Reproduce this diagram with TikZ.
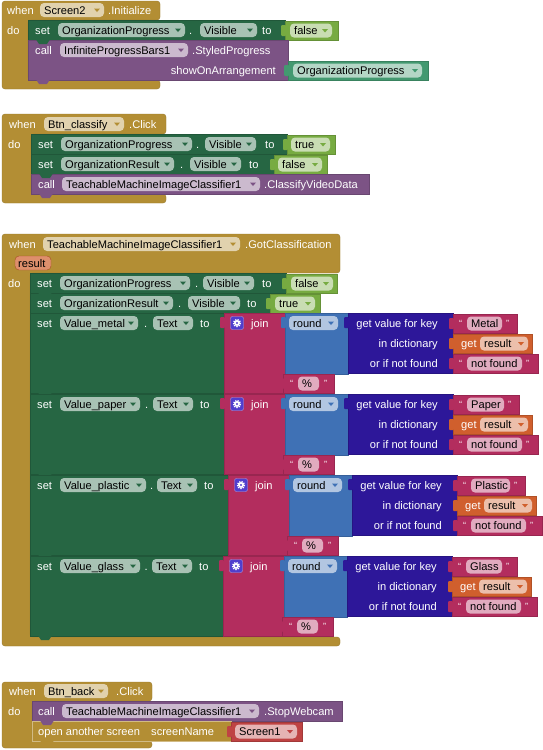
\documentclass[tikz,border=0pt]{standalone}
\usepackage{fontspec}
\setmainfont{Liberation Sans}
\definecolor{cgold}{RGB}{179,142,52}
\definecolor{cset}{RGB}{38,102,67}
\definecolor{ccomp}{RGB}{67,153,112}
\definecolor{cproc}{RGB}{124,83,133}
\definecolor{clogic}{RGB}{119,171,65}
\definecolor{ctext}{RGB}{179,45,94}
\definecolor{cmath}{RGB}{63,113,181}
\definecolor{cdict}{RGB}{45,23,153}
\definecolor{cvar}{RGB}{208,95,45}
\definecolor{cscr}{RGB}{191,67,67}
\definecolor{cgear}{RGB}{80,62,205}
\newcount\bkno
\tikzset{
  txt/.style={inner sep=0pt,text height=8pt,text depth=0pt,font=\fontsize{11.1}{13}\selectfont,text=white},
  ptxt/.style={txt,text=black},
  qtxt/.style={inner sep=0pt,text height=6pt,text depth=0pt,font=\fontsize{9}{10}\selectfont,text=white},
  blk/.style={fill=#1,draw=#1!85!black,line width=0.4pt},
  pillbox/.style={fill=white!60!#1,rounded corners=4pt},
}
\newcommand\bkT[4][west]{\global\advance\bkno by 1\relax\node[txt,anchor=#1] (n\the\bkno) at (#2,#3) {#4};}
\newcommand\bkQ[3]{\global\advance\bkno by 1\relax\node[qtxt,anchor=west] (n\the\bkno) at (#1,#2) {#3};}
\newcommand\bkBox[5]{\draw[blk=#1] (#2,#3) rectangle (#4,#5);}
\newcommand\bkPillN[5]{\fill[pillbox=#1] (#2,#4-7) rectangle (#3,#4+7);\global\advance\bkno by 1\relax\node[ptxt,anchor=west] (n\the\bkno) at (#2+4,#4) {#5};}
\newcommand\bkPill[5]{\bkPillN{#1}{#2}{#3}{#4}{#5}\fill[#1] (#3-10,#4-1.5) -- (#3-4,#4-1.5) -- (#3-7,#4+2) -- cycle;}
\newcommand\bkTab[3]{\fill[#1,rounded corners=1pt] (#2-4,#3+4) rectangle (#2+1,#3+15);}
\newcommand\bkBump[3]{\fill[#1] (#2+8,#3-0.6) -- (#2+11,#3+4) -- (#2+19,#3+4) -- (#2+22,#3-0.6) -- cycle;}
\newcommand\bkGear[2]{\draw[fill=cgear,draw=white!50!cgear,rounded corners=2pt] (#1-6.5,#2-6.5) rectangle (#1+6.5,#2+6.5);
  \draw[white,line width=1.6pt,dash pattern=on 1.2pt off 1.1pt] (#1,#2) circle[radius=3.4];
  \fill[white] (#1,#2) circle[radius=2.9]; \fill[cgear] (#1,#2) circle[radius=1.2];}
\newcommand\bkEvt[6]{\draw[blk=cgold,rounded corners=3pt] (2,#2) -- (#1,#2) -- (#1,#3) -- (#4,#3) -- (#4,#5) -- (#1,#5) -- (#1,#6) -- (2,#6) -- cycle;}
% y0, name, name-pill end, green end, key, key-pill end
\newcommand\bkRow[6]{%
\begin{scope}[shift={(0,#1)}]
  \bkBox{cset}{30}{0}{#4}{80}
  \bkT{37}{10}{set}
  \bkPill{cset}{60}{#3}{10}{#2}
  \bkT{{(#3+#4-71)/2-1.5}}{10}{.}
  \bkPill{cset}{#4-71}{#4-31}{10}{Text}
  \bkT{#4-24}{10}{to}
  % join
  \bkBox{ctext}{#4}{0}{#4+61}{80}
  \bkTab{ctext}{#4}{0}
  \bkGear{#4+13}{10}
  \bkT{#4+27}{10}{join}
  % round
  \bkBox{cmath}{#4+61}{0}{#4+124}{61}
  \bkTab{cmath}{#4+61}{0}
  \bkPill{cmath}{#4+65}{#4+114}{10}{round}
  % dictionary lookup
  \bkBox{cdict}{#4+124}{0}{#4+229}{60}
  \bkTab{cdict}{#4+124}{0}
  \bkT[east]{#4+214}{10}{get value for key}
  \bkT[east]{#4+214}{30}{in dictionary}
  \bkT[east]{#4+214}{50}{or if not found}
  % key text
  \bkBox{ctext}{#4+229}{1}{#6+15}{20}
  \bkTab{ctext}{#4+229}{1}
  \bkQ{#4+235}{10}{“}
  \bkPillN{ctext}{#4+243}{#6}{10.5}{#5}
  \bkQ{#6+4}{10}{”}
  % get result
  \bkBox{cvar}{#4+229}{21}{#4+308}{40}
  \bkTab{cvar}{#4+229}{21}
  \bkT{#4+237}{30.5}{get}
  \bkPill{cvar}{#4+256}{#4+304}{30.5}{result}
  % not found
  \bkBox{ctext}{#4+229}{41}{#4+314}{60}
  \bkTab{ctext}{#4+229}{41}
  \bkQ{#4+235}{50}{“}
  \bkPillN{ctext}{#4+243}{#4+298}{50.5}{not found}
  \bkQ{#4+302}{50}{”}
  % percent
  \bkBox{ctext}{#4+59}{61}{#4+110}{80}
  \bkTab{ctext}{#4+59}{61}
  \bkQ{#4+66}{70}{“}
  \bkPillN{ctext}{#4+74}{#4+95}{70.5}{\%}
  \bkQ{#4+100}{70}{”}
  \bkBump{cset}{30}{80}
\end{scope}}
\begin{document}
\begin{tikzpicture}[x=1pt,y=-1pt]
\useasboundingbox (0,0) rectangle (543,750);
\fill[white] (0,0) rectangle (543,750);
% ===== Block 1: Screen2.Initialize
\bkEvt{160}{1}{20}{28}{80}{89}
\bkT{7}{10}{when}
\bkPill{cgold}{40}{104}{10}{Screen2}
\bkT{108}{10}{.Initialize}
\bkT{7}{30}{do}
\bkBox{cset}{28}{20}{285}{40}
\bkT{35}{30}{set}
\bkPill{cset}{58}{185}{30}{OrganizationProgress}
\bkT{189}{30}{.}
\bkPill{cset}{200}{257}{30}{Visible}
\bkT{262}{30}{to}
\bkBox{clogic}{285}{21}{338}{40}
\bkTab{clogic}{285}{21}
\bkPill{clogic}{290}{332}{30.5}{false}
\bkBox{cproc}{28}{40}{288}{80}
\bkT{35}{50}{call}
\bkPill{cproc}{60}{188}{50}{InfiniteProgressBars1}
\bkT{192}{50}{.StyledProgress}
\bkT[east]{276}{70}{showOnArrangement}
\bkBox{ccomp}{288}{61}{428}{80}
\bkTab{ccomp}{288}{61}
\bkPill{ccomp}{293}{422}{70.5}{OrganizationProgress}
\bkBump{cset}{28}{40}
\bkBump{cproc}{28}{80}
% ===== Block 2: Btn_classify.Click
\bkEvt{166}{114}{134}{31}{194}{203}
\bkT{9}{124}{when}
\bkPill{cgold}{44}{124}{124}{Btn\_classify}
\bkT{129}{124}{.Click}
\bkT{8}{144}{do}
\bkBox{cset}{31}{134}{287}{154}
\bkT{38}{144}{set}
\bkPill{cset}{61}{192}{144}{OrganizationProgress}
\bkT{196}{144}{.}
\bkPill{cset}{205}{256}{144}{Visible}
\bkT{265}{144}{to}
\bkBox{clogic}{287}{135}{335}{154}
\bkTab{clogic}{287}{135}
\bkPill{clogic}{291}{330}{144.5}{true}
\bkBox{cset}{31}{154}{274}{174}
\bkT{38}{164}{set}
\bkPill{cset}{61}{174}{164}{OrganizationResult}
\bkT{180}{164}{.}
\bkPill{cset}{190}{241}{164}{Visible}
\bkT{249}{164}{to}
\bkBox{clogic}{274}{155}{327}{174}
\bkTab{clogic}{274}{155}
\bkPill{clogic}{278}{322}{164.5}{false}
\bkBox{cproc}{31}{174}{369}{194}
\bkT{38}{184}{call}
\bkPill{cproc}{62}{260}{184}{TeachableMachineImageClassifier1}
\bkT{264}{184}{.ClassifyVideoData}
\bkBump{cset}{31}{174}
\bkBump{cproc}{31}{194}
% ===== Block 3: GotClassification
\bkEvt{340}{234}{273}{30}{637}{646}
\bkT{9}{244}{when}
\bkPill{cgold}{43}{240}{244}{TeachableMachineImageClassifier1}
\bkT{245}{244}{.GotClassification}
\draw[fill=white!30!cvar,draw=cvar!80!black,line width=0.4pt,rounded corners=4pt] (15,256) rectangle (51,270);
\bkT{18}{263}{\color{black}result}
\bkT{8}{283}{do}
\bkBox{cset}{30}{273}{286}{293}
\bkT{37}{283}{set}
\bkPill{cset}{60}{190}{283}{OrganizationProgress}
\bkT{195}{283}{.}
\bkPill{cset}{203}{254}{283}{Visible}
\bkT{262}{283}{to}
\bkBox{clogic}{286}{274}{337}{293}
\bkTab{clogic}{286}{274}
\bkPill{clogic}{291}{333}{283.5}{false}
\bkBox{cset}{30}{293}{270}{313}
\bkT{37}{303}{set}
\bkPill{cset}{60}{173}{303}{OrganizationResult}
\bkT{178}{303}{.}
\bkPill{cset}{188}{240}{303}{Visible}
\bkT{247}{303}{to}
\bkBox{clogic}{270}{294}{320}{313}
\bkTab{clogic}{270}{294}
\bkPill{clogic}{275}{315}{303.5}{true}
\bkBump{cset}{30}{293}
\bkRow{313}{Value\_metal}{138}{224}{Metal}{502}
\bkRow{394}{Value\_paper}{140}{224}{Paper}{504}
\bkRow{475}{Value\_plastic}{146}{228}{Plastic}{510}
\bkRow{556}{Value\_glass}{140}{223}{Glass}{502}
% ===== Block 4: Btn_back.Click
\bkEvt{152}{682}{701}{32}{741}{748}
\bkT{9}{691}{when}
\bkPill{cgold}{44}{108}{691}{Btn\_back}
\bkT{116}{691}{.Click}
\bkT{8}{711}{do}
\bkBox{cproc}{32}{701}{342}{721}
\bkT{38}{711}{call}
\bkPill{cproc}{62}{259}{711}{TeachableMachineImageClassifier1}
\bkT{264}{711}{.StopWebcam}
\draw[fill=cgold,draw=white!40!cgold,line width=0.6pt] (32,721) rectangle (231,741);
\bkT{38}{731}{open another screen}
\bkT{151}{731}{screenName}
\bkBox{cscr}{231}{722}{302}{741}
\bkTab{cscr}{231}{722}
\bkPill{cscr}{235}{297}{731.5}{Screen1}
\bkBump{cproc}{32}{721}
\bkBump{cgold}{32}{741}
\end{tikzpicture}
\end{document}
